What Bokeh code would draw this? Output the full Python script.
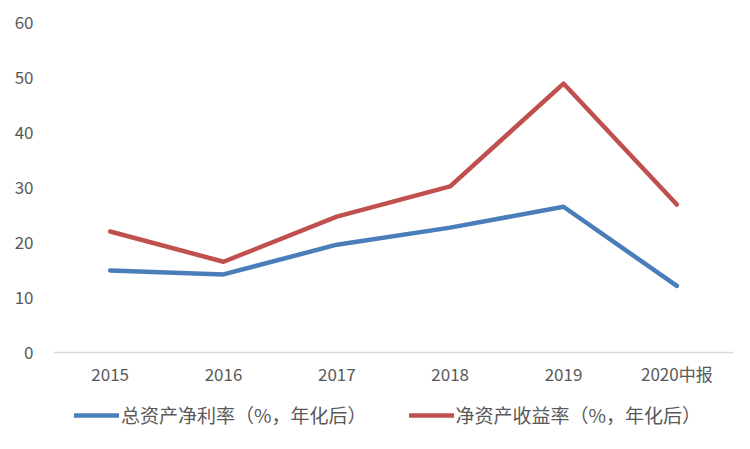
from bokeh.plotting import figure
from bokeh.models import Range1d, FixedTicker, Legend, LegendItem, ColumnDataSource
from bokeh.embed import file_html
from bokeh.resources import INLINE

categories = ["2015", "2016", "2017", "2018", "2019", "2020中报"]
roa = [14.9, 14.2, 19.6, 22.7, 26.5, 12.1]
roe = [22.0, 16.5, 24.7, 30.2, 48.9, 26.9]
roa_name = "总资产净利率（%，年化后）"
roe_name = "净资产收益率（%，年化后）"
y_ticks = [0, 10, 20, 30, 40, 50, 60]

FONT = "Noto Sans CJK SC"

p = figure(x_range=categories, width=750, height=449, output_backend="svg",
           toolbar_location=None, min_border_left=53, min_border_right=17,
           min_border_top=22, min_border_bottom=0)
# extra room below zero holds the category labels and the legend
p.y_range = Range1d(-17.64, 60)
p.outline_line_color = None
p.grid.visible = False
p.background_fill_color = "white"
p.border_fill_color = "white"

src = ColumnDataSource(dict(x=categories, roa=roa, roe=roe))
r1 = p.line("x", "roa", source=src, line_color="#4A7EBB", line_width=4.5,
            line_cap="round", line_join="round")
r2 = p.line("x", "roe", source=src, line_color="#C0504D", line_width=4.5,
            line_cap="round", line_join="round")

ya = p.yaxis[0]
ya.ticker = FixedTicker(ticks=y_ticks)
ya.axis_line_color = None
ya.major_tick_line_color = None
ya.minor_tick_line_color = None
ya.major_tick_out = 0
ya.major_tick_in = 0
ya.major_label_text_font = FONT
ya.major_label_text_font_size = "17px"
ya.major_label_text_color = "#595959"
ya.major_label_standoff = 20

xa = p.xaxis[0]
xa.fixed_location = 0
xa.axis_line_color = "#D9D9D9"
xa.axis_line_width = 1.5
xa.major_tick_line_color = None
xa.minor_tick_line_color = None
xa.major_tick_out = 0
xa.major_tick_in = 0
xa.major_label_text_font = FONT
xa.major_label_text_font_size = "17px"
xa.major_label_text_color = "#595959"
xa.major_label_standoff = 9

legend = Legend(items=[LegendItem(label=roa_name, renderers=[r1]),
                       LegendItem(label=roe_name, renderers=[r2])],
                orientation="horizontal", location=(21, 21),
                label_text_font=FONT, label_text_font_size="19px",
                label_text_color="#595959", glyph_width=45, label_standoff=2,
                spacing=42, border_line_color=None, background_fill_alpha=0,
                margin=0, padding=4)
p.add_layout(legend, "center")

open("out.html", "w").write(file_html(p, INLINE))
